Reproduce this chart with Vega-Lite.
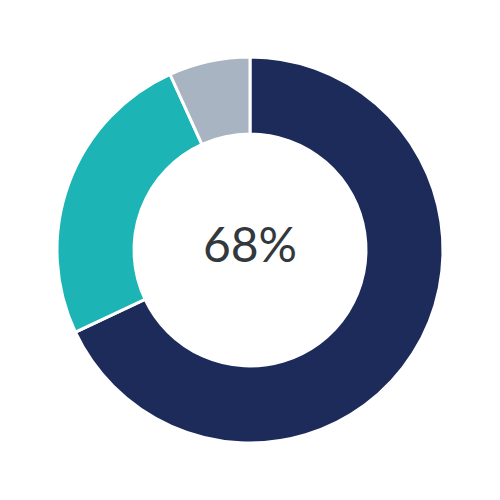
{
  "$schema": "https://vega.github.io/schema/vega-lite/v6.json",
  "width": 500,
  "height": 500,
  "autosize": {"type": "fit", "contains": "padding"},
  "padding": 0,
  "background": "white",
  "data": {
    "values": [
      {"segment": "A", "share": 68, "rank": 1},
      {"segment": "B", "share": 25.2, "rank": 2},
      {"segment": "C", "share": 6.8, "rank": 3}
    ]
  },
  "layer": [
    {
      "mark": {"type": "arc", "outerRadius": 193, "innerRadius": 116, "stroke": "white", "strokeWidth": 3},
      "encoding": {
        "theta": {"field": "share", "type": "quantitative", "stack": true},
        "order": {"field": "rank", "type": "quantitative"},
        "color": {
          "field": "segment",
          "type": "nominal",
          "legend": null,
          "scale": {"domain": ["A", "B", "C"], "range": ["#1c2b5a", "#1cb4b4", "#a9b4c3"]}
        }
      }
    },
    {
      "data": {"values": [{"label": "68%"}]},
      "mark": {"type": "text", "font": "Lato", "fontSize": 48, "fontWeight": "normal", "color": "#33383d", "baseline": "middle", "align": "center", "dy": -2},
      "encoding": {"text": {"field": "label"}}
    }
  ],
  "config": {"view": {"stroke": null}}
}
